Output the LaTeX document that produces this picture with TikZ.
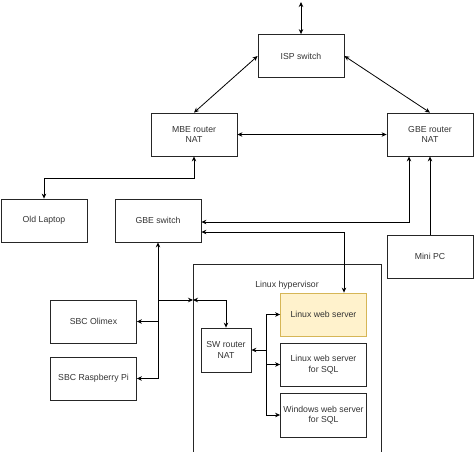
\documentclass[tikz,border=0pt]{standalone}
\usepackage{fontspec}
\setmainfont{Liberation Sans}
\usetikzlibrary{arrows.meta,calc}
\begin{document}
\begin{tikzpicture}[x=1pt,y=-1pt,
  box/.style={draw=black!85, line width=0.8pt, minimum width=86pt, minimum height=43pt, align=center, inner sep=1pt, font=\fontsize{8.7}{10.5}\selectfont, text=black!80},
  yel/.style={box, fill={rgb,255:red,255;green,242;blue,204}, draw={rgb,255:red,214;green,182;blue,86}},
  conn/.style={line width=0.8pt, draw=black, -{Stealth[length=5pt,width=4.5pt]}},
  conn2/.style={line width=0.8pt, draw=black, {Stealth[length=5pt,width=4.5pt]}-{Stealth[length=5pt,width=4.5pt]}},
  plain/.style={line width=0.8pt, draw=black}]
\useasboundingbox (0,0) rectangle (474,451);
% container
\draw[line width=0.8pt, draw=black!85] (193,455) -- (193,264) -- (381,264) -- (381,455);
\node[font=\fontsize{8.7}{10.5}\selectfont, text=black!80] (hyplabel) at (287,285) {Linux hypervisor};

\node[box] (isp) at (301,56) {ISP switch};
\node[box] (mbe) at (194,134.5) {MBE router\\NAT};
\node[box] (gber) at (430,134.5) {GBE router\\NAT};
\node[box] (laptop) at (44,220.5) {Old Laptop};
\node[box] (gbes) at (158,220.5) {GBE switch};
\node[box] (mini) at (430,256.5) {Mini PC};
\node[box] (olimex) at (93.5,321.5) {SBC Olimex};
\node[box] (rpi) at (93.5,378.5) {SBC Raspberry Pi};
\node[box, minimum width=50pt, minimum height=44pt] (sw) at (226,350) {SW router\\NAT};
\node[yel] (lws) at (323.5,314.5) {Linux web server};
\node[box] (lwsql) at (323.5,364.5) {Linux web server\\for SQL};
\node[box, minimum height=44pt] (wws) at (323.5,415) {Windows web server\\for SQL};

\coordinate (top) at (301,2);
\coordinate (hypL) at (193,300);
\coordinate (busT) at (266,314.5);
\coordinate (busB) at (266,415);
\coordinate (swbus) at (266,350);

\draw[conn2] (top) -- (isp.north);
\draw[conn2] (isp.west) -- (mbe.north);
\draw[conn2] (isp.east) -- (gber.north);
\draw[conn2] (mbe.east) -- (gber.west);
\draw[conn2] (mbe.south) -- ++(0,22) -| (laptop.north);
\draw[conn2] ([xshift=-21pt]gber.south) |- ([yshift=-1.5pt]gbes.east);
\draw[conn] (mini.north) -- (gber.south);
\draw[conn2] ([yshift=-11.5pt]gbes.east) -| ([xshift=20.5pt]lws.north);

% GBE switch bus
\draw[conn] (gbes.south |- rpi.east) -- (gbes.south);
\draw[conn] (gbes.south |- olimex.east) -- (olimex.east);
\draw[conn] (gbes.south |- rpi.east) -- (rpi.east);
\draw[conn] (gbes.south |- hypL) -- (hypL);
\draw[conn2] (hypL) -| (sw.north);

% SW router bus
\draw[plain] (busT) -- (busB);
\draw[conn] (swbus) -- (sw.east);
\draw[conn] (busT) -- (lws.west);
\draw[conn] (busT |- lwsql.west) -- (lwsql.west);
\draw[conn] (busB) -- (wws.west);
\end{tikzpicture}
\end{document}
